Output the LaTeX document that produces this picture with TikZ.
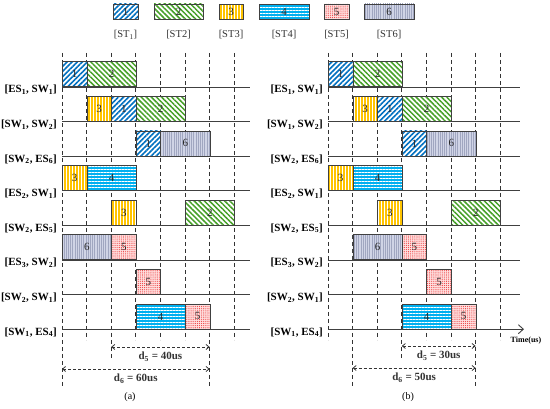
\documentclass[tikz,border=0pt]{standalone}
\usepackage{fontspec}
\setmainfont{Liberation Serif}
\usepackage{xcolor}
\usetikzlibrary{arrows.meta, patterns, patterns.meta, positioning}

\definecolor{stblue}{RGB}{0,112,192}
\definecolor{stgreen}{RGB}{70,160,40}
\definecolor{styellow}{RGB}{255,196,0}
\definecolor{stcyan}{RGB}{0,176,240}
\definecolor{stred}{RGB}{235,50,50}
\definecolor{stgrayfill}{RGB}{208,212,230}
\definecolor{stgrayline}{RGB}{160,166,192}

\tikzset{
    box/.style={draw=black!75, line width=0.6pt, minimum height=25pt, inner sep=0pt, text=black!85, font=\fontsize{11}{13}\selectfont},
    st1/.style={preaction={fill=white}, pattern={Lines[angle=45, distance=3.6pt, line width=1.6pt]}, pattern color=stblue},
    st2/.style={preaction={fill=white}, pattern={Lines[angle=-45, distance=3.6pt, line width=1.5pt]}, pattern color=stgreen},
    st3/.style={preaction={fill=styellow}, pattern={Lines[angle=90, distance=3pt, line width=0.5pt]}, pattern color=white},
    st4/.style={preaction={fill=stcyan}, pattern={Lines[angle=0, distance=3pt, line width=0.6pt]}, pattern color=white},
    st5/.style={preaction={fill=red!12}, pattern={Dots[distance=1.9pt, radius=0.5pt]}, pattern color=stred},
    st6/.style={preaction={fill=stgrayfill}, pattern={Lines[angle=90, distance=2.2pt, line width=0.5pt]}, pattern color=stgrayline},
    slot/.style={black!80, line width=0.8pt, dash pattern=on 4pt off 3pt},
    axis/.style={black!75, line width=0.9pt},
    rowlab/.style={anchor=east, inner sep=1pt, font=\fontsize{11}{13}\selectfont\bfseries},
    dlab/.style={font=\fontsize{11}{13}\selectfont\bfseries},
    darrow/.style={black!80, line width=0.8pt, dash pattern=on 3pt off 2pt, {Straight Barb[length=3pt, width=5pt]}-{Straight Barb[length=3pt, width=5pt]}}
}

\begin{document}
\begin{tikzpicture}[x=1pt, y=-1pt]
    \useasboundingbox (0,0) rectangle (550,409);

    % legend
    \foreach \s/\cx/\w/\lab in {1/125.5/25/{[ST\textsubscript{1}]}, 2/178.5/49/{[ST2]}, 3/231/24/{[ST3]},
                                4/284/50/{[ST4]}, 5/336.5/25/{[ST5]}, 6/389/50/{[ST6]}} {
        \node[box, st\s, minimum width=\w pt, minimum height=15pt] (leg\s) at (\cx,11.5) {\s};
        \node[below=7pt of leg\s, text=black!80, font=\fontsize{10.5}{12}\selectfont] (leglab\s) {\lab};
    }

    % time slots, x0 of each panel
    \foreach \p/\xo in {a/62, b/328} {
        \foreach \r/\lab in {1/{[ES\textsubscript{1}, SW\textsubscript{1}]}, 2/{[SW\textsubscript{1}, SW\textsubscript{2}]},
                             3/{[SW\textsubscript{2}, ES\textsubscript{6}]}, 4/{[ES\textsubscript{2}, SW\textsubscript{1}]},
                             5/{[SW\textsubscript{2}, ES\textsubscript{5}]}, 6/{[ES\textsubscript{3}, SW\textsubscript{2}]},
                             7/{[SW\textsubscript{2}, SW\textsubscript{1}]}, 8/{[SW\textsubscript{1}, ES\textsubscript{4}]}} {
            \node[rowlab] (lab\p\r) at ({\xo-4}, {90+(\r-1)*34.6}) {\lab};
        }
    }

    % dashed slot borders: column/lower end
    \foreach \c/\ye in {0/387, 1/340, 2/358, 3/340, 4/340, 5/340, 6/387, 7/340} {
        \draw[slot] ({62+\c*24.6}, 53) -- ({62+\c*24.6}, \ye);
    }
    \foreach \c/\ye in {0/340, 1/387, 2/340, 3/360, 4/340, 5/340, 6/387, 7/340} {
        \draw[slot] ({328+\c*24.6}, 53) -- ({328+\c*24.6}, \ye);
    }

    % link lines
    \foreach \r in {1,...,8} {
        \draw[axis] (62, {87+(\r-1)*34.6}) -- (250, {87+(\r-1)*34.6});
    }
    \foreach \r in {1,...,7} {
        \draw[axis] (328, {87+(\r-1)*34.6}) -- (520, {87+(\r-1)*34.6});
    }
    \coordinate (tstart) at (328, 329.2);
    \coordinate (tend) at (524, 329.2);
    \draw[axis, -{Straight Barb[length=5pt, width=9pt]}] (tstart) -- (tend);
    \node[font=\footnotesize\bfseries] (time) at (526, 341) {Time(us)};

    % frames: column/row/width/stream
    \foreach \c/\r/\w/\n in {0/1/1/1, 1/1/2/2, 1/2/1/3, 2/2/1/1, 3/2/2/2, 3/3/1/1, 4/3/2/6,
                             0/4/1/3, 1/4/2/4, 2/5/1/3, 5/5/2/2, 0/6/2/6, 2/6/1/5,
                             3/7/1/5, 3/8/2/4, 5/8/1/5} {
        \node[box, st\n, minimum width=\w*24.6pt, anchor=south west] (a\r\c) at ({62+\c*24.6}, {87+(\r-1)*34.6}) {\n};
    }
    \foreach \c/\r/\w/\n in {0/1/1/1, 1/1/2/2, 1/2/1/3, 2/2/1/1, 3/2/2/2, 3/3/1/1, 4/3/2/6,
                             0/4/1/3, 1/4/2/4, 2/5/1/3, 5/5/2/2, 1/6/2/6, 3/6/1/5,
                             4/7/1/5, 3/8/2/4, 5/8/1/5} {
        \node[box, st\n, minimum width=\w*24.6pt, anchor=south west] (b\r\c) at ({328+\c*24.6}, {87+(\r-1)*34.6}) {\n};
    }

    % deadlines
    \coordinate (a5l) at (111.2, 347);
    \coordinate (a5r) at (209.6, 347);
    \coordinate (a6l) at (62, 369);
    \coordinate (a6r) at (209.6, 369);
    \draw[darrow] (a5l) -- node[dlab, below=1pt] (ad5) {d\textsubscript{5} = 40us} (a5r);
    \draw[darrow] (a6l) -- node[dlab, below=1pt] (ad6) {d\textsubscript{6} = 60us} (a6r);
    \coordinate (b5l) at (401.8, 346);
    \coordinate (b5r) at (475.6, 346);
    \coordinate (b6l) at (352.6, 368);
    \coordinate (b6r) at (475.6, 368);
    \draw[darrow] (b5l) -- node[dlab, below=1pt] (bd5) {d\textsubscript{5} = 30us} (b5r);
    \draw[darrow] (b6l) -- node[dlab, below=1pt] (bd6) {d\textsubscript{6} = 50us} (b6r);

    \node (capa) at (130, 397) {(a)};
    \node (capb) at (408, 397) {(b)};
\end{tikzpicture}
\end{document}
